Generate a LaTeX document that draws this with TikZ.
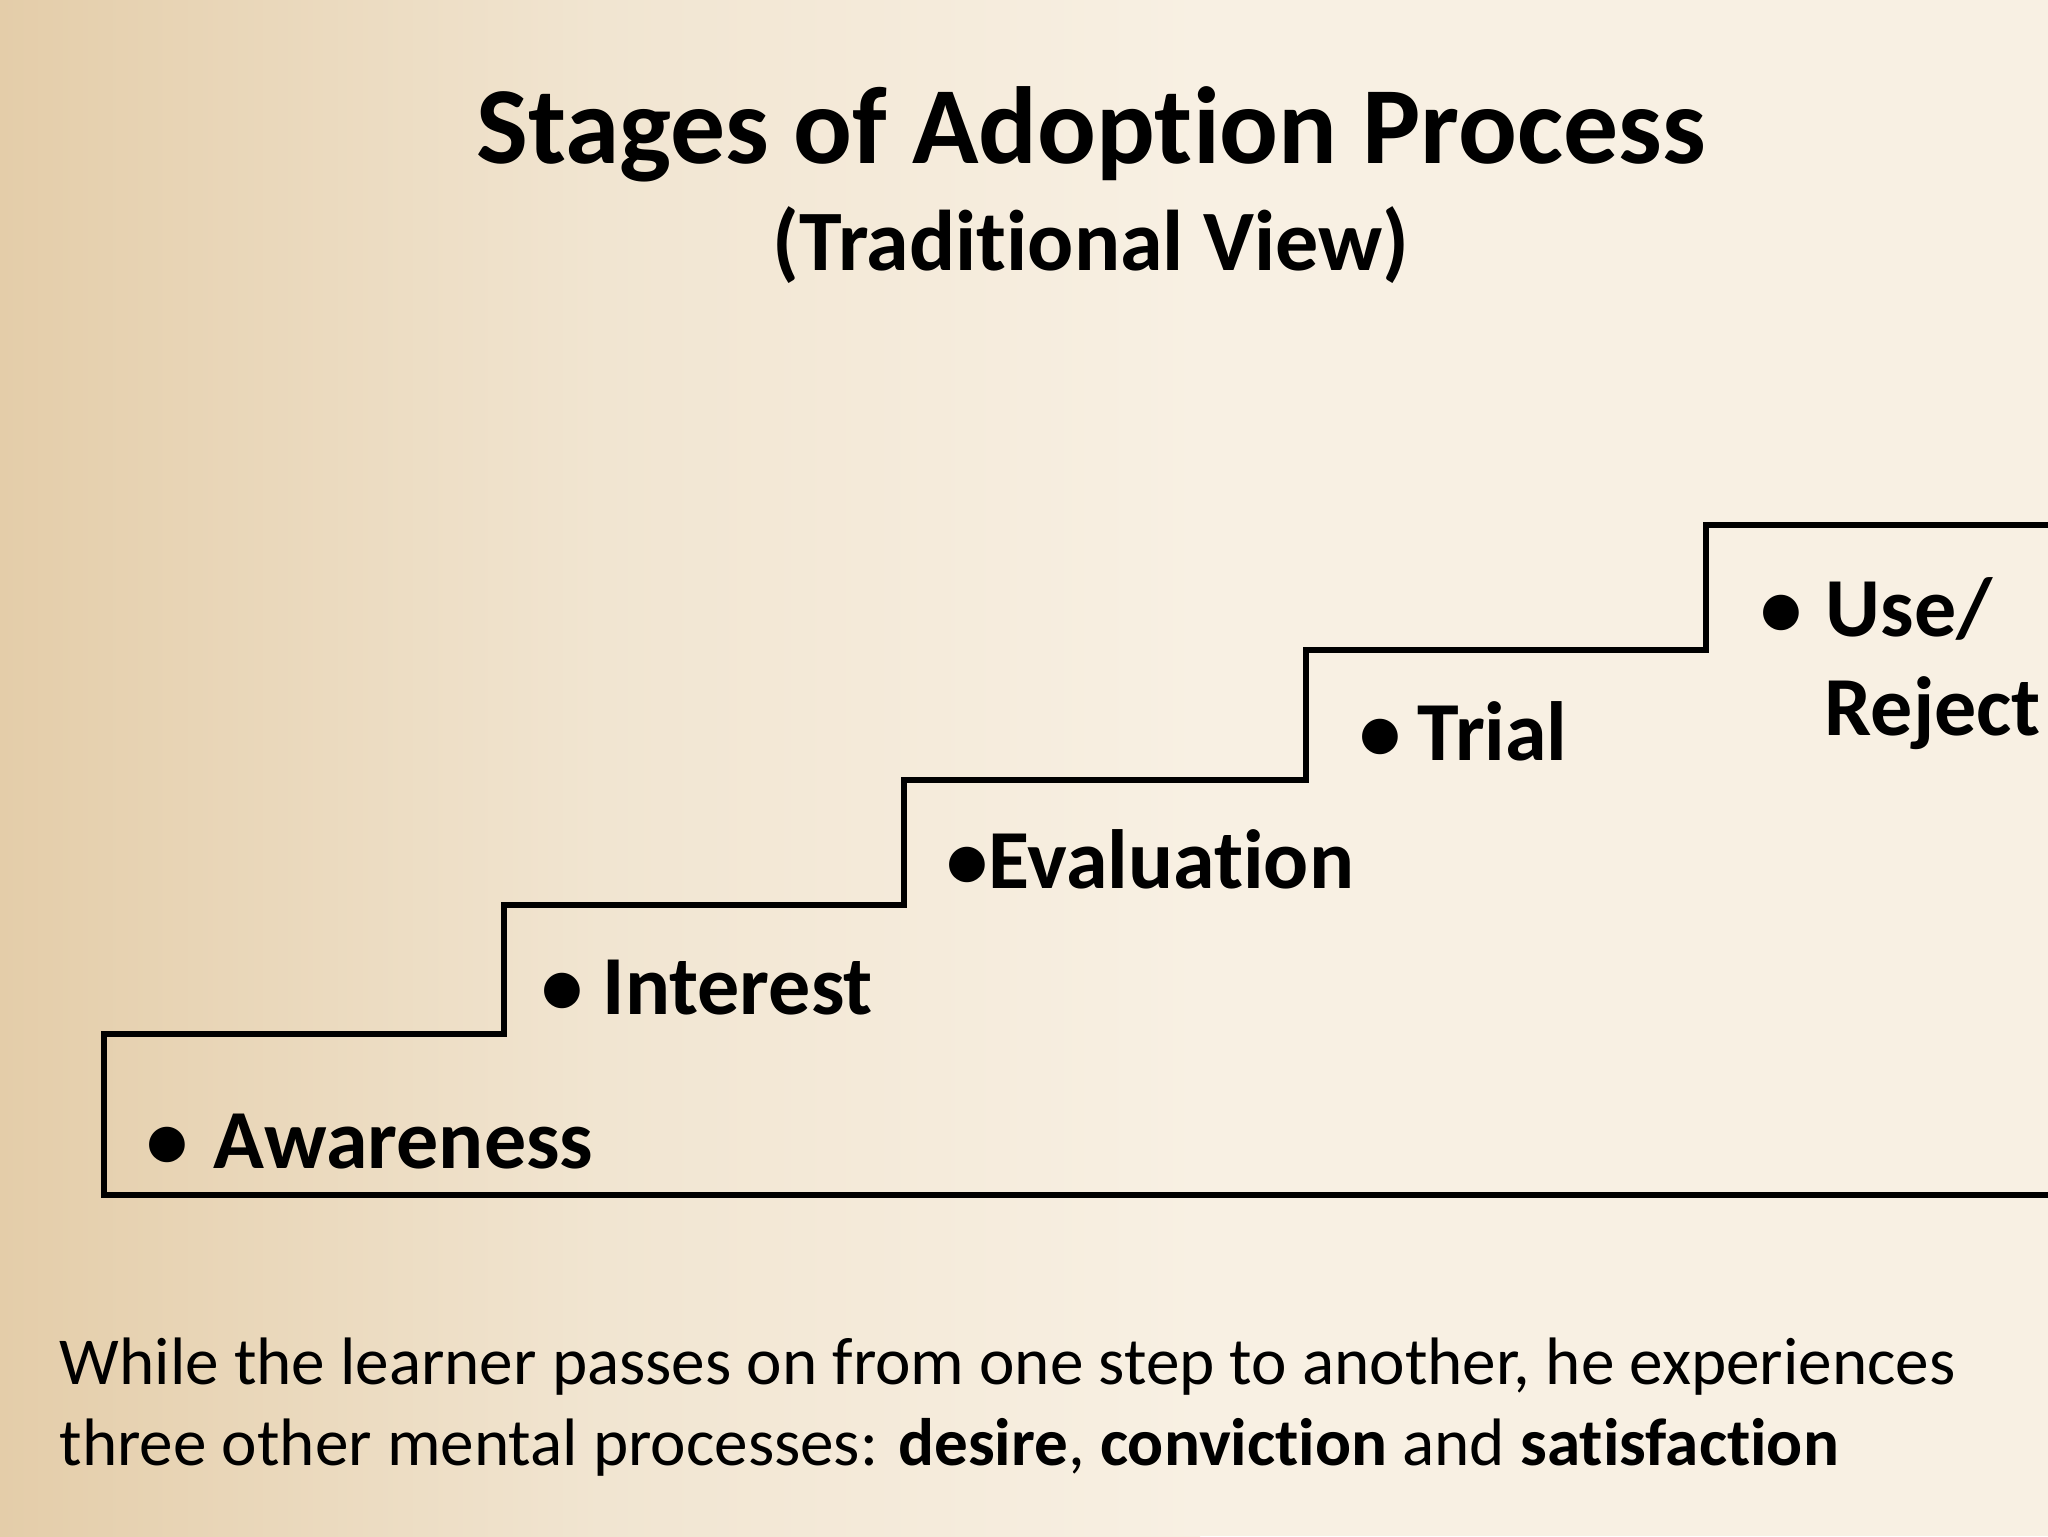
\documentclass[tikz,border=0pt]{standalone}
\usepackage{fontspec}
\setmainfont{Carlito}[Ligatures=NoCommon]
\usetikzlibrary{positioning}
\definecolor{paperdark}{HTML}{E4CDA9}
\definecolor{papermid}{HTML}{F1E5D1}
\definecolor{paperlight}{HTML}{F8F0E3}
\begin{document}
\begin{tikzpicture}[x=0.1mm, y=-0.1mm,
  stage/.style={anchor=base west, inner sep=0pt, font=\fontsize{23.9}{29}\selectfont\bfseries},
  dot/.style={anchor=base, inner sep=0pt, font=\fontsize{23.9}{29}\selectfont\bfseries},
  stair/.style={draw=black, line width=1.5pt, line join=miter}]
\useasboundingbox (0,0) rectangle (2048,1536);
% background
\shade[left color=paperdark, right color=paperlight, middle color=papermid] (0,0) rectangle (1200,1536);
\fill[paperlight] (1200,0) rectangle (2048,1536);
% title
\node[inner sep=0pt, anchor=base, font=\fontsize{31.2}{36}\selectfont\bfseries] (title) at (1091,163) {Stages of Adoption Process};
\node[inner sep=0pt, anchor=base, font=\fontsize{24.5}{29}\selectfont\bfseries] (subtitle) at (1091,270) {(Traditional View)};
% staircase
\draw[stair] (2048,1195) -- (104,1195) -- (104,1034) -- (504,1034) -- (504,905)
  -- (904,905) -- (904,780) -- (1306,780) -- (1306,650) -- (1706,650) -- (1706,525) -- (2048,525);
% stages
\node[stage] (aware) at (213,1168) {Awareness};
\node[stage] (interest) at (602,1014) {Interest};
\node[stage] (eval) at (988,888) {Evaluation};
\node[stage] (trial) at (1417,760) {Trial};
\node[stage] (use) at (1825,636) {Use/};
\node[stage] (reject) at (1824,735) {Reject};
\node[dot] (aware-dot) at (167,1168) {•};
\node[dot] (interest-dot) at (562,1014) {•};
\node[dot] (eval-dot) at (967,888) {•};
\node[dot] (trial-dot) at (1380,760) {•};
\node[dot] (use-dot) at (1781,636) {•};
% note
\node[inner sep=0pt, anchor=base west, align=left, font=\fontsize{19.1}{23}\selectfont] (note) at (59,1465)
  {While the learner passes on from one step to another, he experiences\\
   three other mental processes: \textbf{desire}, \textbf{conviction} and \textbf{satisfaction}};
\end{tikzpicture}
\end{document}
